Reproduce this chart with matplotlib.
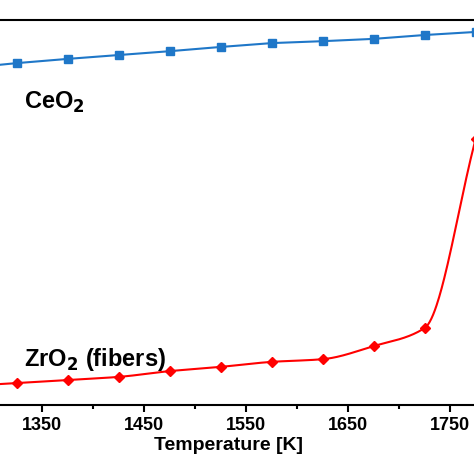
import numpy as np
import matplotlib
matplotlib.use('Agg')
import matplotlib.pyplot as plt

plt.rcParams['font.family'] = ['Liberation Sans', 'DejaVu Sans']
plt.rcParams['mathtext.fontset'] = 'custom'
plt.rcParams['mathtext.rm'] = 'Liberation Sans'

temps = [1275, 1325, 1375, 1425, 1475, 1525, 1575, 1625, 1675, 1725, 1775]
ceo2 = [87.5, 88.8, 89.9, 90.9, 91.9, 93.0, 94.0, 94.5, 95.1, 96.1, 96.9]
zro2 = [4.9, 5.7, 6.5, 7.3, 8.8, 9.9, 11.2, 11.9, 15.3, 20.0, 69.1]
xticks = [1350, 1450, 1550, 1650, 1750]


def pchip(x, y, xs):
    # monotone cubic hermite, only used to draw the smooth line
    x = np.asarray(x, float); y = np.asarray(y, float)
    h = np.diff(x); d = np.diff(y) / h
    m = np.zeros_like(y)
    for i in range(1, len(y) - 1):
        if d[i - 1] * d[i] > 0:
            w1 = 2 * h[i] + h[i - 1]; w2 = h[i] + 2 * h[i - 1]
            m[i] = (w1 + w2) / (w1 / d[i - 1] + w2 / d[i])
    m[0] = d[0]; m[-1] = d[-1]
    idx = np.clip(np.searchsorted(x, xs) - 1, 0, len(h) - 1)
    t = (xs - x[idx]) / h[idx]
    h00 = 2*t**3 - 3*t**2 + 1; h10 = t**3 - 2*t**2 + t
    h01 = -2*t**3 + 3*t**2; h11 = t**3 - t**2
    return h00*y[idx] + h10*h[idx]*m[idx] + h01*y[idx+1] + h11*h[idx]*m[idx+1]


fig = plt.figure(figsize=(4.74, 4.74), dpi=100)
ax = fig.add_axes([-0.05, 0.1456, 1.063, 0.8122])

xs = np.linspace(temps[0], temps[-1], 600)
ax.plot(temps, ceo2, color='#1f77c8', lw=1.5, marker='s', ms=6)
ax.plot(xs, pchip(temps, zro2, xs), color='red', lw=1.5)
ax.plot(temps, zro2, ls='none', color='red', marker='D', ms=5.5)

ax.set_xlim(1285.3, 1779.4)
ax.set_ylim(0, 100)
ax.set_xticks(xticks)
ax.set_xticks(np.arange(1300, 1800, 50), minor=True)
ax.set_yticks([])
for lab in ax.get_xticklabels():
    lab.set_fontweight('bold')
ax.tick_params(axis='x', direction='out', length=5, width=1.5, labelsize=13, pad=4)
ax.tick_params(axis='x', which='minor', direction='out', length=3, width=1.5)
for s in ax.spines.values():
    s.set_linewidth(1.5)
ax.set_xlabel('Temperature [K]', fontsize=14, fontweight='bold', labelpad=2)

ax.text(0.095, 0.77, r'CeO$_\mathbf{2}$', transform=ax.transAxes, fontsize=17, fontweight='bold')
ax.text(0.095, 0.10, r'ZrO$_\mathbf{2}$ (fibers)', transform=ax.transAxes, fontsize=17, fontweight='bold')

fig.savefig('out.png', dpi=100)
